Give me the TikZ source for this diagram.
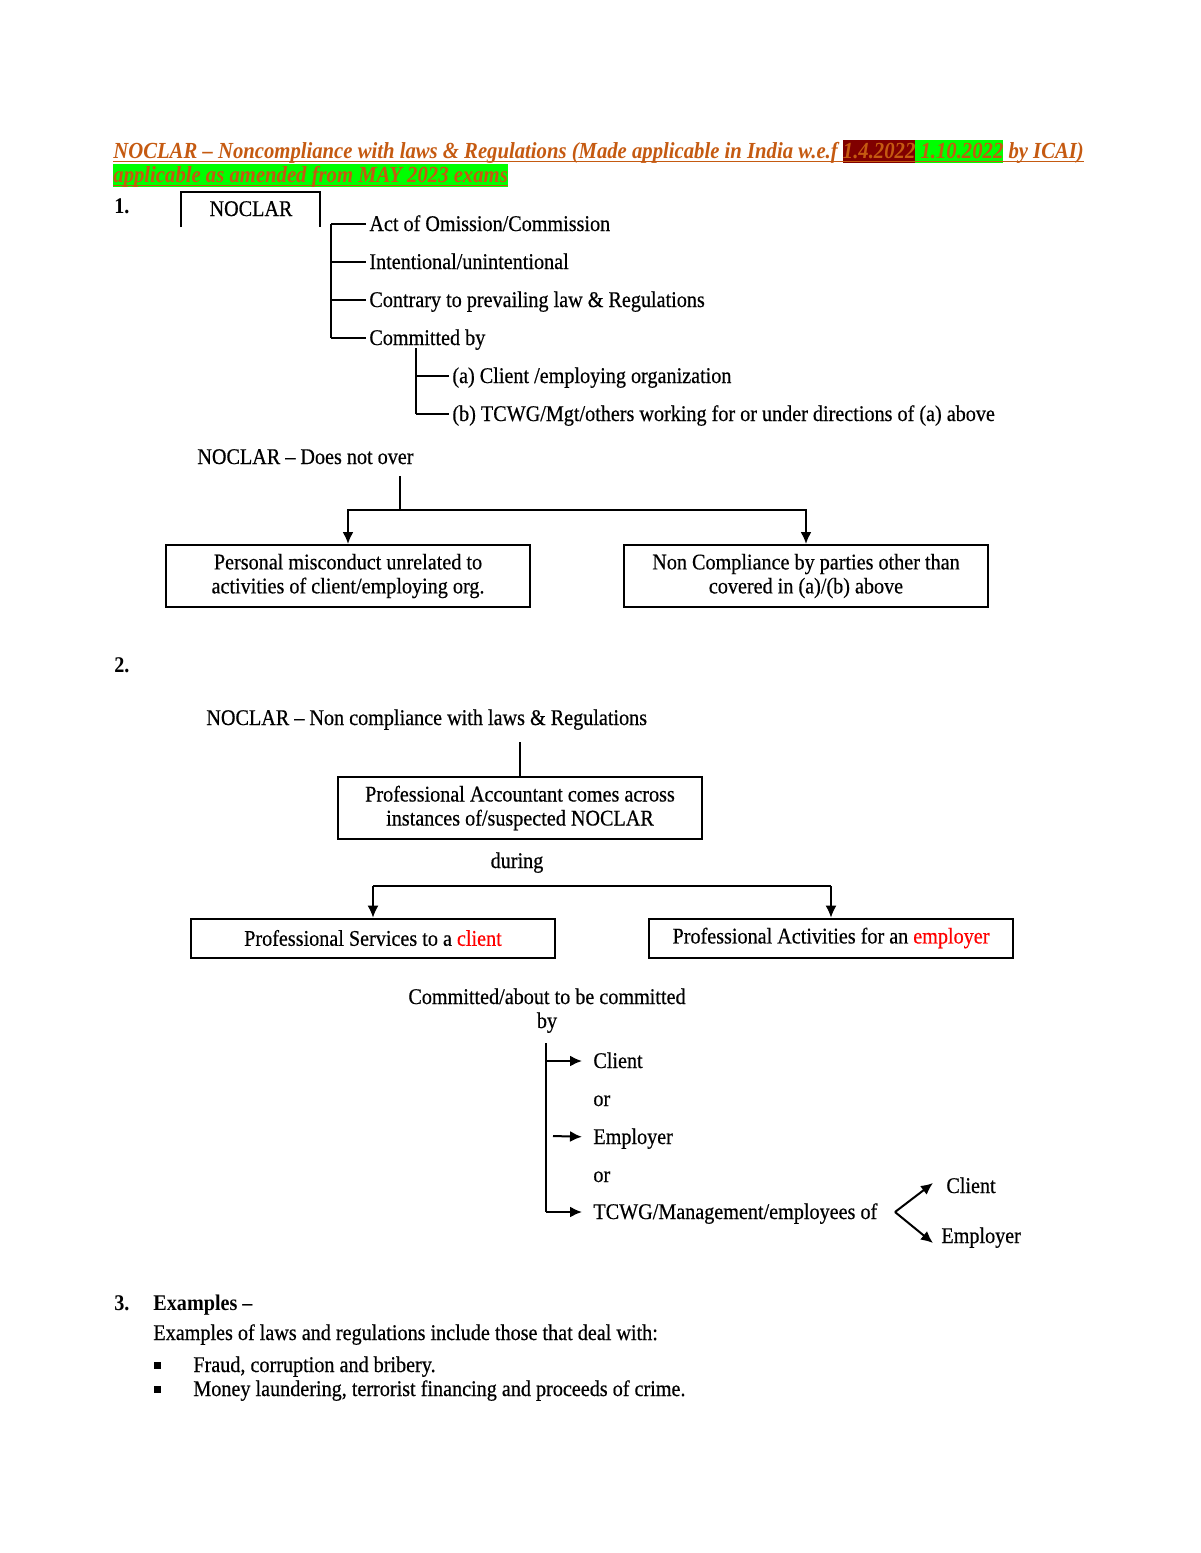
\documentclass[tikz,border=0pt]{standalone}
\usepackage{fontspec}
\setmainfont{Liberation Serif}[FakeStretch=0.9, UprightFeatures={FakeBold=0.5}]
\usetikzlibrary{arrows.meta}
\definecolor{titlecol}{HTML}{C55A11}
\definecolor{hlred}{HTML}{800000}
\definecolor{hlgreen}{HTML}{00FF00}
\definecolor{redtxt}{HTML}{FF0000}
\newcommand\fs{\fontsize{11.2}{12}\selectfont}
\newcommand\tfs{\fontsize{11.5}{12}\selectfont}
\newcommand\hlbox[2]{{\setlength{\fboxsep}{0pt}\colorbox{#1}{\vrule height 9pt depth 2.5pt width 0pt\relax #2}}}
\begin{document}
\begin{tikzpicture}[x=0.5pt,y=-0.5pt,
  txt/.style={inner xsep=1.5pt, inner ysep=0pt, anchor=west, font=\fs, text height=8pt, text depth=1pt},
  ctxt/.style={txt, anchor=center},
  btxt/.style={txt, font=\fs\bfseries},
  box/.style={draw, line width=1pt, align=center, font=\fs, inner sep=0pt, minimum width=182pt},
  thinln/.style={line width=0.6pt},
  thickln/.style={line width=1pt},
  arr/.style={-{Latex[length=6pt,width=5.5pt]}},
  ttl/.style={anchor=base west, inner sep=0pt, font=\tfs\bfseries\itshape, text=titlecol}
]
\useasboundingbox (0,0) rectangle (1200,1553);

% ---------- title ----------
\node[ttl] (t1) at (113,158) {NOCLAR -- Noncompliance with laws \& Regulations (Made applicable in India w.e.f \hlbox{hlred}{1.4.2022}\hlbox{hlgreen}{\ 1.10.2022} by ICAI)};
\node[ttl] (t2) at (113,182) {\hlbox{hlgreen}{applicable as amended from MAY 2023 exams}};
\draw[titlecol, line width=0.7pt] ([yshift=-1.6pt]t1.base west) -- ([yshift=-1.6pt]t1.base east);
\draw[titlecol, line width=0.7pt] ([yshift=-1.6pt]t2.base west) -- ([yshift=-1.6pt]t2.base east);

% ---------- section 1 ----------
\node[btxt] (n1) at (111,206) {1.};
\node[ctxt] (nb) at (251,209) {NOCLAR};
\draw[thickln] (181,227) -- (181,192) -- (320,192) -- (320,227);

\node[txt] (a1) at (366,224) {Act of Omission/Commission};
\node[txt] (a2) at (366,262) {Intentional/unintentional};
\node[txt] (a3) at (366,300) {Contrary to prevailing law \& Regulations};
\node[txt] (a4) at (366,338) {Committed by};
\coordinate (j1) at (331,224);
\coordinate (j2) at (331,262);
\coordinate (j3) at (331,300);
\coordinate (j4) at (331,338);
\draw[thinln] (j1) -- (j4);
\draw[thinln] (j1) -- (a1.west);
\draw[thinln] (j2) -- (a2.west);
\draw[thinln] (j3) -- (a3.west);
\draw[thinln] (j4) -- (a4.west);

\node[txt] (b1) at (449,376) {(a) Client /employing organization};
\node[txt] (b2) at (449,414) {(b) TCWG/Mgt/others working for or under directions of (a) above};
\coordinate (u0) at (416,348);
\coordinate (u1) at (416,376);
\coordinate (u2) at (416,414);
\draw[thinln] (u0) -- (u2);
\draw[thinln] (u1) -- (b1.west);
\draw[thinln] (u2) -- (b2.west);

\node[txt] (dn) at (194,457) {NOCLAR -- Does not over};
\coordinate (d0) at (400,476);
\coordinate (d1) at (400,510);
\node[box, minimum height=31pt] (bx1) at (348,576) {Personal misconduct unrelated to\\activities of client/employing org.};
\node[box, minimum height=31pt] (bx2) at (806,576) {Non Compliance by parties other than\\covered in (a)/(b) above};
\draw[thinln] (d0) -- (d1);
\draw[thickln, arr] (d1) -| (bx1.north);
\draw[thickln, arr] (d1) -| (bx2.north);

% ---------- section 2 ----------
\node[btxt] (n2) at (111,665) {2.};
\node[txt] (nc) at (203,718) {NOCLAR -- Non compliance with laws \& Regulations};
\coordinate (e0) at (520,742);
\node[box, minimum height=31pt] (bp) at (520,808) {Professional Accountant comes across\\instances of/suspected NOCLAR};
\draw[thinln] (e0) -- (bp.north);
\node[ctxt] (du) at (517,861) {during};
\coordinate (kl) at (373,886);
\coordinate (kr) at (831,886);
\node[box, minimum height=19.5pt] (bA) at (373,938) {Professional Services to a \textcolor{redtxt}{client}};
\node[box, minimum height=19.5pt] (bB) at (831,938) {Professional Activities for an \textcolor{redtxt}{employer}};
\draw[thinln] (kl) -- (kr);
\draw[thinln, arr] (kl) -- (bA.north);
\draw[thinln, arr] (kr) -- (bB.north);

\node[ctxt] (cm) at (547,997) {Committed/about to be committed};
\node[ctxt] (cb) at (547,1021) {by};
\coordinate (s0) at (546,1043);
\coordinate (s1) at (546,1061);
\coordinate (s2) at (553,1136);
\coordinate (s3) at (546,1212);
\node[txt] (c1) at (590,1061) {Client};
\node[txt] (o1) at (590,1099) {or};
\node[txt] (c2) at (590,1137) {Employer};
\node[txt] (o2) at (590,1175) {or};
\node[txt] (c3) at (590,1212) {TCWG/Management/employees of};
\draw[thickln] (s0) -- (s3);
\draw[thickln, arr, shorten >=4pt] (s1) -- (c1.west);
\draw[thickln, arr, shorten >=4pt] (s2) -- (c2.west);
\draw[thickln, arr, shorten >=4pt] (s3) -- (c3.west);

\coordinate (fk) at (895,1212);
\node[txt] (fc) at (943,1186) {Client};
\node[txt] (fe) at (938,1236) {Employer};
\coordinate (fc0) at (933,1183);
\coordinate (fe0) at (933,1243);
\draw[thickln, arr] (fk) -- (fc0);
\draw[thickln, arr] (fk) -- (fe0);

% ---------- section 3 ----------
\node[btxt] (n3) at (111,1303) {3.};
\node[btxt] (ex) at (150,1303) {Examples --};
\node[txt] (ex2) at (150,1333) {Examples of laws and regulations include those that deal with:};
\fill (153.5,1361.5) rectangle +(7,7);
\fill (153.5,1385.5) rectangle +(7,7);
\node[txt] (l1) at (190,1365) {Fraud, corruption and bribery.};
\node[txt] (l2) at (190,1389) {Money laundering, terrorist financing and proceeds of crime.};
\end{tikzpicture}
\end{document}
